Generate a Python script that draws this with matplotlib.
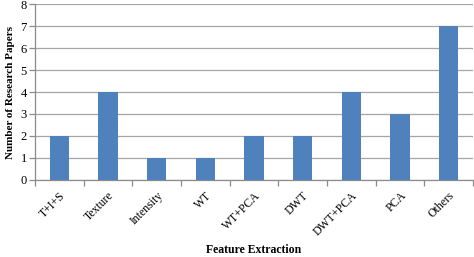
import matplotlib
matplotlib.use("Agg")
import matplotlib.pyplot as plt
import numpy as np

categories = ["T+I+S", "Texture", "Intensity", "WT", "WT+PCA", "DWT", "DWT+PCA", "PCA", "Others"]
values = [2, 4, 1, 1, 2, 2, 4, 3, 7]
yticks = [0, 1, 2, 3, 4, 5, 6, 7, 8]

plt.rcParams['font.family'] = ['Liberation Serif', 'DejaVu Serif']

fig = plt.figure(figsize=(4.74, 2.57), dpi=100)
ax = fig.add_axes([0.074, 0.30, 0.924, 0.684])

x = np.arange(len(categories))
ax.bar(x, values, width=0.4, color="#4F81BD", zorder=3)
ax.set_xlim(-0.5, len(categories) - 0.5)
ax.set_ylim(0, 8)
ax.set_yticks(yticks)
ax.set_yticklabels([str(v) for v in yticks], fontsize=9)
ax.yaxis.grid(True, color="#A6A6A6", linewidth=0.9, zorder=0)

ax.set_xticks(x)
ax.set_xticklabels(categories, rotation=45, ha="right", rotation_mode="anchor", fontsize=8.5)
ax.tick_params(axis="x", which="major", length=0, pad=7)
ax.set_xticks(np.arange(-0.5, len(categories)), minor=True)
ax.tick_params(axis="x", which="minor", length=4, color="#8C8C8C", width=0.9)
ax.tick_params(axis="y", length=4, color="#8C8C8C", width=0.9, pad=2)

for s in ["top", "right"]:
    ax.spines[s].set_visible(False)
for s in ["left", "bottom"]:
    ax.spines[s].set_color("#8C8C8C")
    ax.spines[s].set_linewidth(0.9)

fig.text(0.536, 0.028, "Feature Extraction", fontsize=8.5, fontweight="bold",
         ha="center", va="center")
ax.set_ylabel("Number of Research Papers", fontsize=8, fontweight="bold", labelpad=4)

fig.savefig("out.png", dpi=100)
